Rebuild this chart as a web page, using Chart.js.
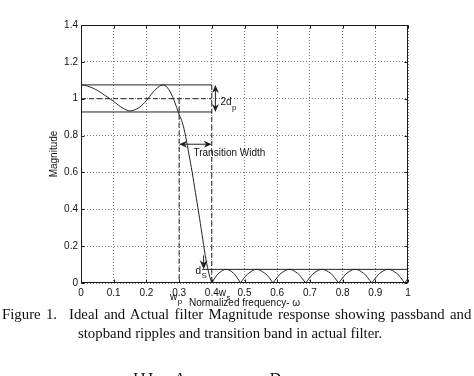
<!DOCTYPE html>
<html>
<head>
<meta charset="utf-8">
<script src="https://cdn.jsdelivr.net/npm/chart.js@4.4.0/dist/chart.umd.min.js"></script>
<style>
  html, body { margin: 0; padding: 0; background: #fff; }
  #wrap { position: relative; width: 474px; height: 376px; overflow: hidden; background: #fff; }
  #chart { position: absolute; left: 0; top: 0; }
  .caption {
    position: absolute;
    font-family: 'Liberation Serif', 'Times New Roman', serif;
    font-size: 14.8px;
    line-height: 16px;
    color: #111;
    white-space: nowrap;
  }
  #cap1 { left: 2px; top: 306px; word-spacing: 1.6px; }
  #cap1 .tab { display: inline-block; width: 12px; }
  #cap2 { left: 78px; top: 325px; }
  #cap3 { left: 133px; top: 371px; font-size: 16px; font-variant: small-caps; letter-spacing: 2.2px; }
</style>
</head>
<body>
<div id="wrap">
  <canvas id="chart" width="474" height="376"></canvas>
  <div class="caption" id="cap1">Figure 1.<span class="tab"></span>Ideal and Actual filter Magnitude response showing passband and</div>
  <div class="caption" id="cap2">stopband ripples and transition band in actual filter.</div>
  <div class="caption" id="cap3">III.&nbsp;&nbsp;Algorithm Description</div>
</div>
<script>
// tick labels
const xTickLabels = ['0', '0.1', '0.2', '0.3', '0.4', '0.5', '0.6', '0.7', '0.8', '0.9', '1'];
const yTickLabels = ['0', '0.2', '0.4', '0.6', '0.8', '1', '1.2', '1.4'];

// filter spec
const passbandEdge = 0.3;
const stopbandEdge = 0.4;
const idealGain = 1;
const passUpper = 1.075;
const passLower = 0.928;
const stopRipple = 0.074;
const stopLineStart = 0.37;

// actual response (repeated zeros keep the lobe cusps sharp)
const responseFreq = [
  0, 0.01, 0.03, 0.05, 0.08, 0.10, 0.12, 0.14, 0.15, 0.16, 0.18, 0.20, 0.22, 0.24, 0.25,
  0.26, 0.275, 0.29, 0.30, 0.31, 0.32, 0.33, 0.34, 0.35, 0.36, 0.37, 0.38, 0.39, 0.40,
  0.40, 0.411, 0.422, 0.444, 0.466, 0.477, 0.488,
  0.488, 0.500, 0.513, 0.537, 0.562, 0.575, 0.587,
  0.587, 0.600, 0.612, 0.637, 0.662, 0.674, 0.687,
  0.687, 0.700, 0.712, 0.737, 0.763, 0.775, 0.788,
  0.788, 0.801, 0.813, 0.838, 0.864, 0.876, 0.889,
  0.889, 0.902, 0.914, 0.939, 0.965, 0.977, 0.990,
  0.990, 1.000
];
const responseMag = [
  1.074, 1.073, 1.062, 1.045, 1.010, 0.985, 0.958, 0.938, 0.934, 0.937, 0.955, 0.990, 1.035, 1.068, 1.074,
  1.068, 1.030, 0.965, 0.915, 0.870, 0.795, 0.700, 0.600, 0.490, 0.380, 0.265, 0.150, 0.060, 0.000,
  0.000, 0.031, 0.054, 0.074, 0.054, 0.030, 0.000,
  0.000, 0.030, 0.053, 0.074, 0.053, 0.030, 0.000,
  0.000, 0.030, 0.053, 0.074, 0.053, 0.030, 0.000,
  0.000, 0.030, 0.053, 0.074, 0.053, 0.030, 0.000,
  0.000, 0.030, 0.053, 0.074, 0.053, 0.030, 0.000,
  0.000, 0.030, 0.053, 0.074, 0.053, 0.030, 0.000,
  0.000, 0.024
];

const INK = '#222';
const TEXT = '#111';
const SANS = "'Liberation Sans', Arial, Helvetica, sans-serif";

function toPoints(xs, ys) {
  return xs.map((x, i) => ({ x, y: ys[i] }));
}

function segment(x0, y0, x1, y1, dashed) {
  return {
    data: [{ x: x0, y: y0 }, { x: x1, y: y1 }],
    borderColor: INK,
    borderWidth: 1,
    borderDash: dashed ? [5, 3] : [],
    pointRadius: 0,
    tension: 0
  };
}

function arrowHead(ctx, tipX, tipY, angle, len, half) {
  ctx.save();
  ctx.translate(tipX, tipY);
  ctx.rotate(angle);
  ctx.beginPath();
  ctx.moveTo(0, 0);
  ctx.lineTo(-len, -half);
  ctx.lineTo(-len * 0.7, 0);
  ctx.lineTo(-len, half);
  ctx.closePath();
  ctx.fill();
  ctx.restore();
}

function subText(ctx, main, sub, x, y) {
  ctx.font = '10px ' + SANS;
  const w = ctx.measureText(main).width;
  ctx.textAlign = 'left';
  ctx.textBaseline = 'middle';
  ctx.fillText(main, x, y);
  ctx.font = '8px ' + SANS;
  ctx.fillText(sub, x + w + 0.5, y + 5);
}

const annotations = {
  id: 'filterAnnotations',
  afterDatasetsDraw(chart) {
    const { ctx, chartArea: a, scales: { x, y } } = chart;
    ctx.save();
    ctx.strokeStyle = INK;
    ctx.fillStyle = INK;
    ctx.lineWidth = 1;

    // 2dp double arrow
    const dpX = x.getPixelForValue(0.411);
    const yTop = y.getPixelForValue(passUpper);
    const yBot = y.getPixelForValue(passLower);
    ctx.beginPath();
    ctx.moveTo(dpX, yTop + 4);
    ctx.lineTo(dpX, yBot - 4);
    ctx.stroke();
    arrowHead(ctx, dpX, yTop, -Math.PI / 2, 8, 3.5);
    arrowHead(ctx, dpX, yBot, Math.PI / 2, 8, 3.5);

    // transition width double arrow
    const tY = y.getPixelForValue(0.753);
    const tL = x.getPixelForValue(passbandEdge);
    const tR = x.getPixelForValue(stopbandEdge);
    ctx.beginPath();
    ctx.moveTo(tL + 4, tY);
    ctx.lineTo(tR - 4, tY);
    ctx.stroke();
    arrowHead(ctx, tL, tY, Math.PI, 8, 3.5);
    arrowHead(ctx, tR, tY, 0, 8, 3.5);

    // ds arrow
    const dsX = x.getPixelForValue(0.375);
    ctx.beginPath();
    ctx.moveTo(dsX, y.getPixelForValue(0.15));
    ctx.lineTo(dsX, y.getPixelForValue(stopRipple) - 4);
    ctx.stroke();
    arrowHead(ctx, dsX, y.getPixelForValue(stopRipple), Math.PI / 2, 9, 4);

    // labels
    ctx.fillStyle = TEXT;
    ctx.font = '10px ' + SANS;
    ctx.textAlign = 'left';
    ctx.textBaseline = 'middle';
    ctx.fillText('Transition Width', x.getPixelForValue(0.344), y.getPixelForValue(0.705));
    subText(ctx, '2d', 'p', dpX + 5, y.getPixelForValue(0.98));
    subText(ctx, 'd', 'S', x.getPixelForValue(0.35), y.getPixelForValue(0.066));

    // wp under the 0.3 tick, ws after the 0.4 tick
    subText(ctx, 'w', 'p', x.getPixelForValue(passbandEdge) - 9, a.bottom + 14);
    ctx.font = '10px ' + SANS;
    const half04 = ctx.measureText(xTickLabels[4]).width / 2;
    subText(ctx, 'w', 's', x.getPixelForValue(stopbandEdge) + half04, a.bottom + 10);

    // frame and inward ticks
    ctx.strokeStyle = '#1a1a1a';
    const L = Math.round(a.left) + 0.5, R = Math.round(a.right) - 0.5;
    const T = Math.round(a.top) + 0.5, B = Math.round(a.bottom) - 0.5;
    ctx.strokeRect(L, T, R - L, B - T);
    ctx.beginPath();
    x.ticks.forEach(t => {
      const px = Math.round(x.getPixelForValue(t.value)) + 0.5;
      ctx.moveTo(px, B); ctx.lineTo(px, B - 3);
      ctx.moveTo(px, T); ctx.lineTo(px, T + 3);
    });
    y.ticks.forEach(t => {
      const py = Math.round(y.getPixelForValue(t.value)) + 0.5;
      ctx.moveTo(L, py); ctx.lineTo(L + 3, py);
      ctx.moveTo(R, py); ctx.lineTo(R - 3, py);
    });
    ctx.stroke();
    ctx.restore();
  }
};

Chart.defaults.font.family = SANS;
Chart.defaults.font.size = 10;
Chart.defaults.color = TEXT;

const gridOpts = { color: '#7a7a7a', lineWidth: 1, drawTicks: false };

new Chart(document.getElementById('chart'), {
  type: 'line',
  data: {
    datasets: [
      {
        data: toPoints(responseFreq, responseMag),
        borderColor: INK,
        borderWidth: 1,
        pointRadius: 0,
        tension: 0.4
      },
      segment(0, passUpper, stopbandEdge, passUpper, false),
      segment(0, passLower, stopbandEdge, passLower, false),
      segment(stopLineStart, stopRipple, 1, stopRipple, false),
      segment(0, idealGain, stopbandEdge, idealGain, true),
      segment(passbandEdge, idealGain, passbandEdge, 0, true),
      segment(stopbandEdge, passUpper, stopbandEdge, 0, true)
    ]
  },
  options: {
    responsive: false,
    animation: false,
    events: [],
    layout: { padding: { left: 0, top: 25, right: 66, bottom: 0 } },
    plugins: { legend: { display: false }, tooltip: { enabled: false } },
    scales: {
      x: {
        type: 'linear',
        min: 0,
        max: 1,
        grid: gridOpts,
        border: { display: false, dash: [1, 2] },
        ticks: {
          stepSize: 0.1,
          padding: 4,
          maxRotation: 0,
          autoSkip: false,
          callback: (v, i) => xTickLabels[i]
        },
        title: {
          display: true,
          text: 'Normalized frequency- \u03c9',
          padding: { top: 0, bottom: 67 }
        },
        afterFit: s => { s.height = 93; }
      },
      y: {
        type: 'linear',
        min: 0,
        max: 1.4,
        grid: gridOpts,
        border: { display: false, dash: [1, 2] },
        ticks: {
          stepSize: 0.2,
          padding: 3,
          callback: (v, i) => yTickLabels[i]
        },
        title: {
          display: true,
          text: 'Magnitude',
          padding: { top: 48, bottom: 0 }
        },
        afterFit: s => { s.width = 81; }
      }
    }
  },
  plugins: [annotations]
});
</script>
</body>
</html>
